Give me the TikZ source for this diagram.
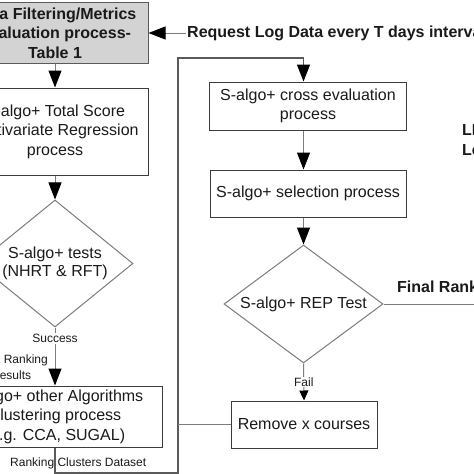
\documentclass[tikz,border=0pt]{standalone}
\usepackage{fontspec}
\setmainfont{Liberation Sans}
\usetikzlibrary{arrows.meta,shapes.geometric}
\definecolor{ink}{HTML}{1A1A1A}
\definecolor{edge}{HTML}{3C3C3C}
\definecolor{wire}{HTML}{7C7C7C}
\definecolor{loopc}{HTML}{5A5A5A}
\definecolor{shade}{HTML}{D3D3D3}
\tikzset{
  proc/.style={draw=edge, fill=white, line width=1pt, align=center, inner sep=0pt,
    font=\fontsize{16}{19.5}\selectfont, text=ink},
  hdr/.style={proc, fill=shade, draw=loopc, font=\bfseries\fontsize{16}{19.5}\selectfont},
  test/.style={diamond, aspect=#1, draw=wire, fill=white, line width=1pt, align=center,
    inner sep=0pt, font=\fontsize{16}{18.5}\selectfont, text=ink},
  test/.default=1.25,
  flow/.style={-{Triangle[length=17pt,width=13pt,color=black]}, line width=1pt, color=wire},
  flowsm/.style={-{Triangle[length=10pt,width=9pt,color=black]}, line width=1pt, color=wire},
  loopline/.style={line width=1.3pt, color=loopc},
  lbl/.style={font=\fontsize{12}{16}\selectfont, text=ink, inner sep=1pt},
  blbl/.style={font=\bfseries\fontsize{16}{20}\selectfont, text=ink, inner sep=1pt},
}
\begin{document}
\begin{tikzpicture}[x=1pt,y=-1pt]
  \useasboundingbox (0,0) rectangle (474,474);
  \fill[white] (0,0) rectangle (474,474);
  \clip (0,0) rectangle (474,474);
  % left column
  \node[hdr, minimum width=186, minimum height=61] (filt) at (55,33)
    {Data Filtering/Metrics\\Evaluation process-\\Table 1};
  \node[blbl, anchor=west] (req) at (186,33) {Request Log Data every T days interval};
  \node[proc, minimum width=186, minimum height=87] (mvr) at (55,131.5)
    {S-algo+ Total Score\\Multivariate Regression\\process};
  \node[test=1.23, minimum width=156, minimum height=127] (nhrt) at (55,263.5)
    {S-algo+ tests\\(NHRT \& RFT)};
  \node[proc, minimum width=214, minimum height=61] (clu) at (55,416.5)
    {S-algo+ other Algorithms\\Clustering process\\(e.g. CCA, SUGAL)};
  \node[lbl, align=center, anchor=east] (res) at (49,367) {Final Ranking\\Results};
  \node[lbl, anchor=west] (cds) at (9,463) {Ranking Clusters Dataset};
  \draw[flow] (req) -- (filt);
  \draw[flow] (filt) -- (mvr);
  \draw[flow] (mvr) -- (nhrt);
  \draw[flow] (nhrt) -- node[lbl, fill=white, pos=0.19] (ok) {Success} (clu);
  % right column
  \node[proc, minimum width=197, minimum height=48] (cross) at (308,106)
    {S-algo+ cross evaluation\\process};
  \node[proc, minimum width=196, minimum height=47] (sel) at (308,193.5)
    {S-algo+ selection process};
  \node[test=1.35, minimum width=159, minimum height=118] (rep) at (303.5,304)
    {S-algo+ REP Test};
  \node[proc, minimum width=146, minimum height=47] (rem) at (304,424.5)
    {Remove x courses};
  \node[blbl, anchor=west] (fin) at (396,288) {Final Ranking};
  \node[blbl, anchor=west] (li) at (461,130) {LI};
  \node[blbl, anchor=west] (lo) at (461,150) {Lo};
  \coordinate (out) at (490,304);
  \draw[flow] (cross.south -| rep.north) -- (sel.north -| rep.north);
  \draw[flow] (sel.south -| rep.north) -- (rep.north);
  \draw[flowsm] (rep.south) -- node[lbl, fill=white] (fail) {Fail} (rem.north);
  \draw[wire, line width=1pt] (rep) -- (out);
  % feedback loop
  \coordinate (lpb) at (178,473);
  \coordinate (lpt) at (178,58);
  \draw[flow, loopline] (clu.south) |- (lpb) -- (lpt) -| (cross.north -| rep.north);
  \draw[loopline, color=wire] (rem) -- (rem.west -| lpt);
\end{tikzpicture}
\end{document}
